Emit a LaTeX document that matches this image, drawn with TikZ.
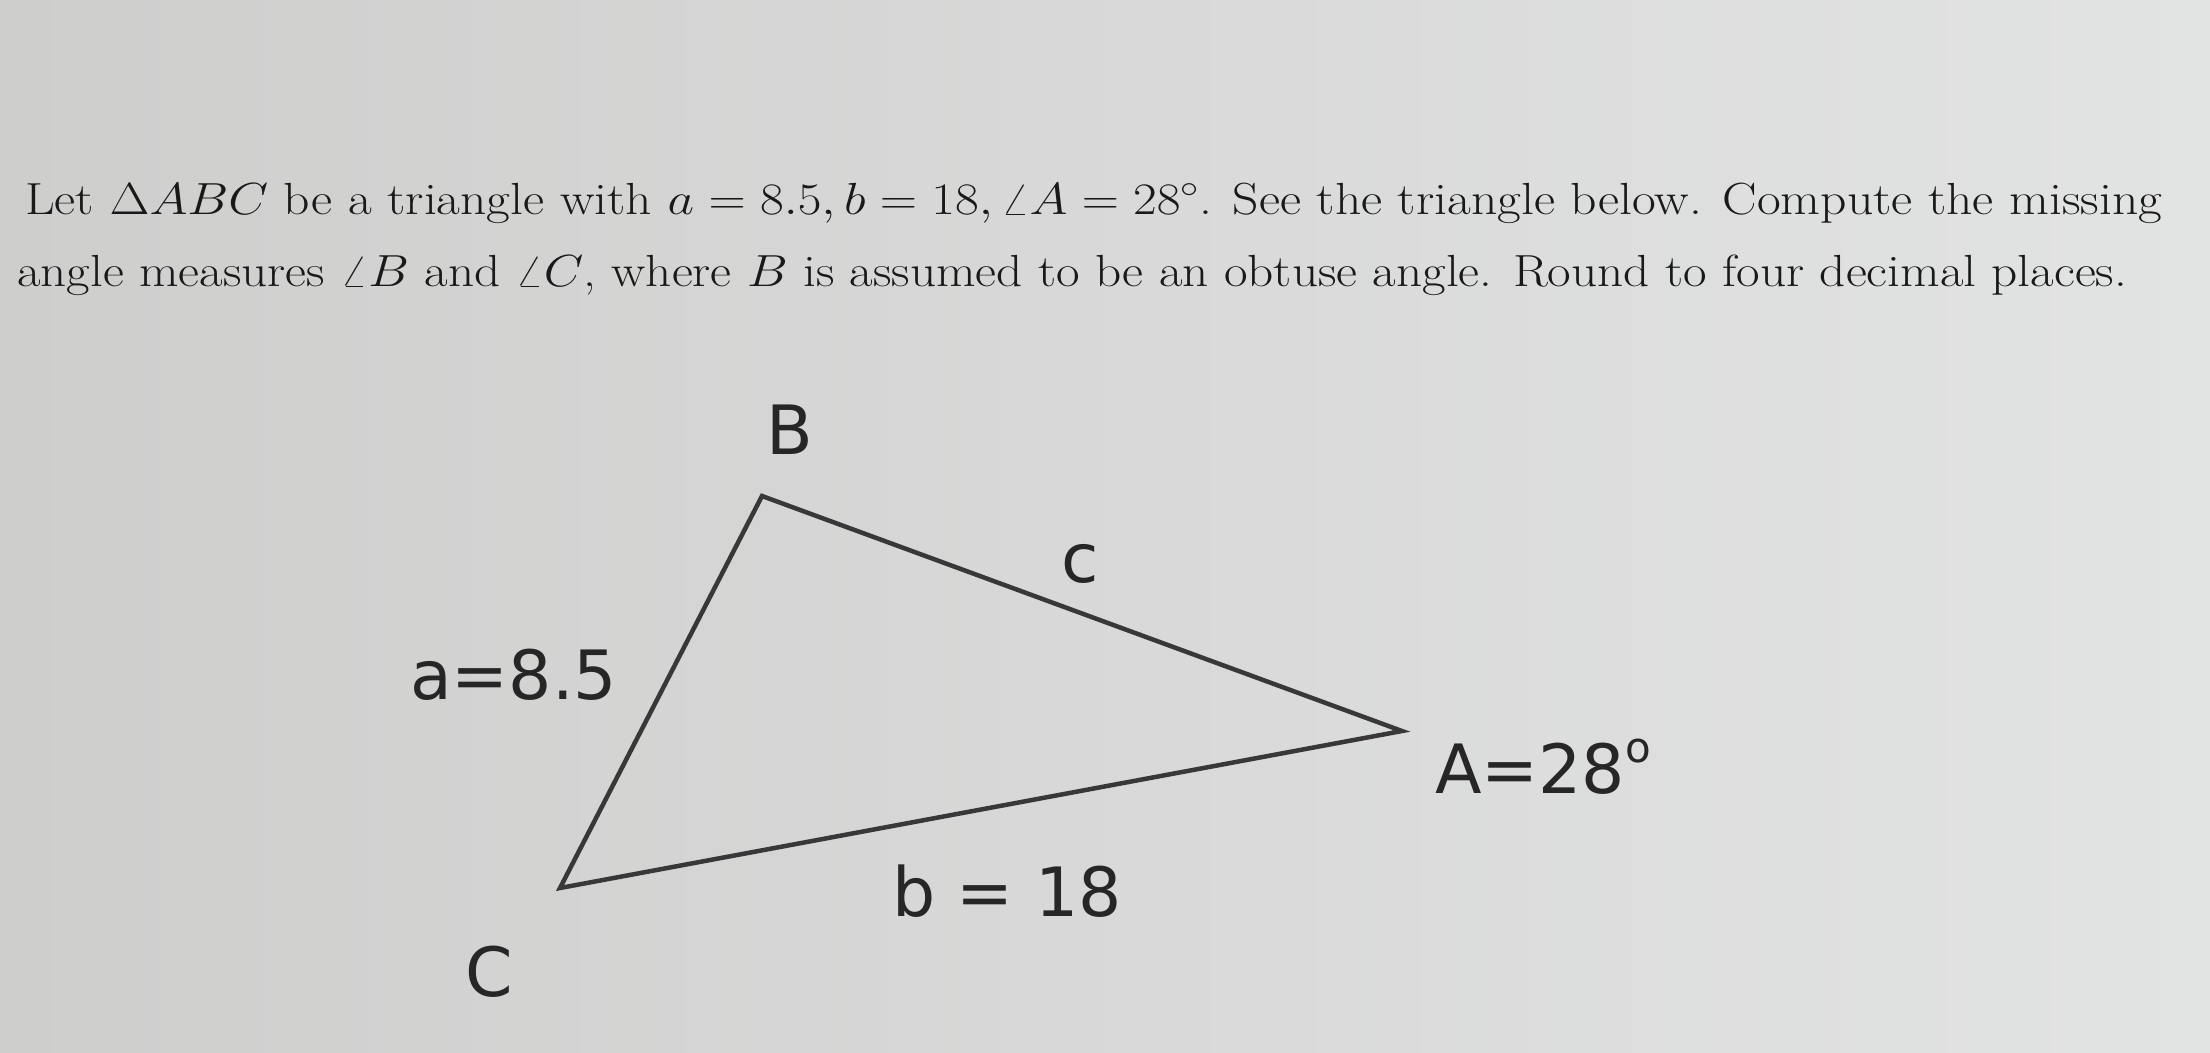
\RequirePackage{fix-cm}
\documentclass[tikz,border=0pt]{standalone}
\usepackage{fontspec}
\newfontfamily\lblfont{DejaVu Sans}
\begin{document}
\begin{tikzpicture}[x=1pt,y=-1pt,
  lbl/.style={inner sep=0pt, text=black!85, font=\lblfont\fontsize{68}{68}\selectfont},
  prob/.style={inner sep=0pt, anchor=base west, text=black!90, font=\fontsize{45}{54}\selectfont},
  side/.style={draw=black!78, line width=4.5pt, line join=miter}]
\shade[left color={rgb,255:red,206;green,206;blue,205}, right color={rgb,255:red,226;green,227;blue,227}] (0,0) rectangle (2210,1052);
\useasboundingbox (0,0) rectangle (2210,1052);
% problem text
\node[prob] (line1) at (25,214) {\scalebox{1.147}[1]{Let $\Delta ABC$ be a triangle with $a=8.5, b=18, \angle A=28^\circ$. See the triangle below. Compute the missing}};
\node[prob] (line2) at (17,286) {\scalebox{1.138}[1]{angle measures $\angle B$ and $\angle C$, where $B$ is assumed to be an obtuse angle. Round to four decimal places.}};
% triangle
\coordinate (B) at (762,496);
\coordinate (A) at (1402,731);
\coordinate (C) at (560,888);
\draw[side] (B) -- (A) -- (C) -- cycle;
% labels
\node[lbl] (lblB) at (790,430) {B};
\node[lbl] (lblc) at (1080,564) {c};
\node[lbl, anchor=base west] (lbla) at (410,699) {a=8.5};
\node[lbl, anchor=base west] (lblA) at (1435,793) {A=28\raisebox{0.45em}{\fontsize{42}{42}\selectfont o}};
\node[lbl, anchor=base west] (lblb) at (892,916) {b = 18};
\node[lbl] (lblC) at (489,972) {C};
\end{tikzpicture}
\end{document}
